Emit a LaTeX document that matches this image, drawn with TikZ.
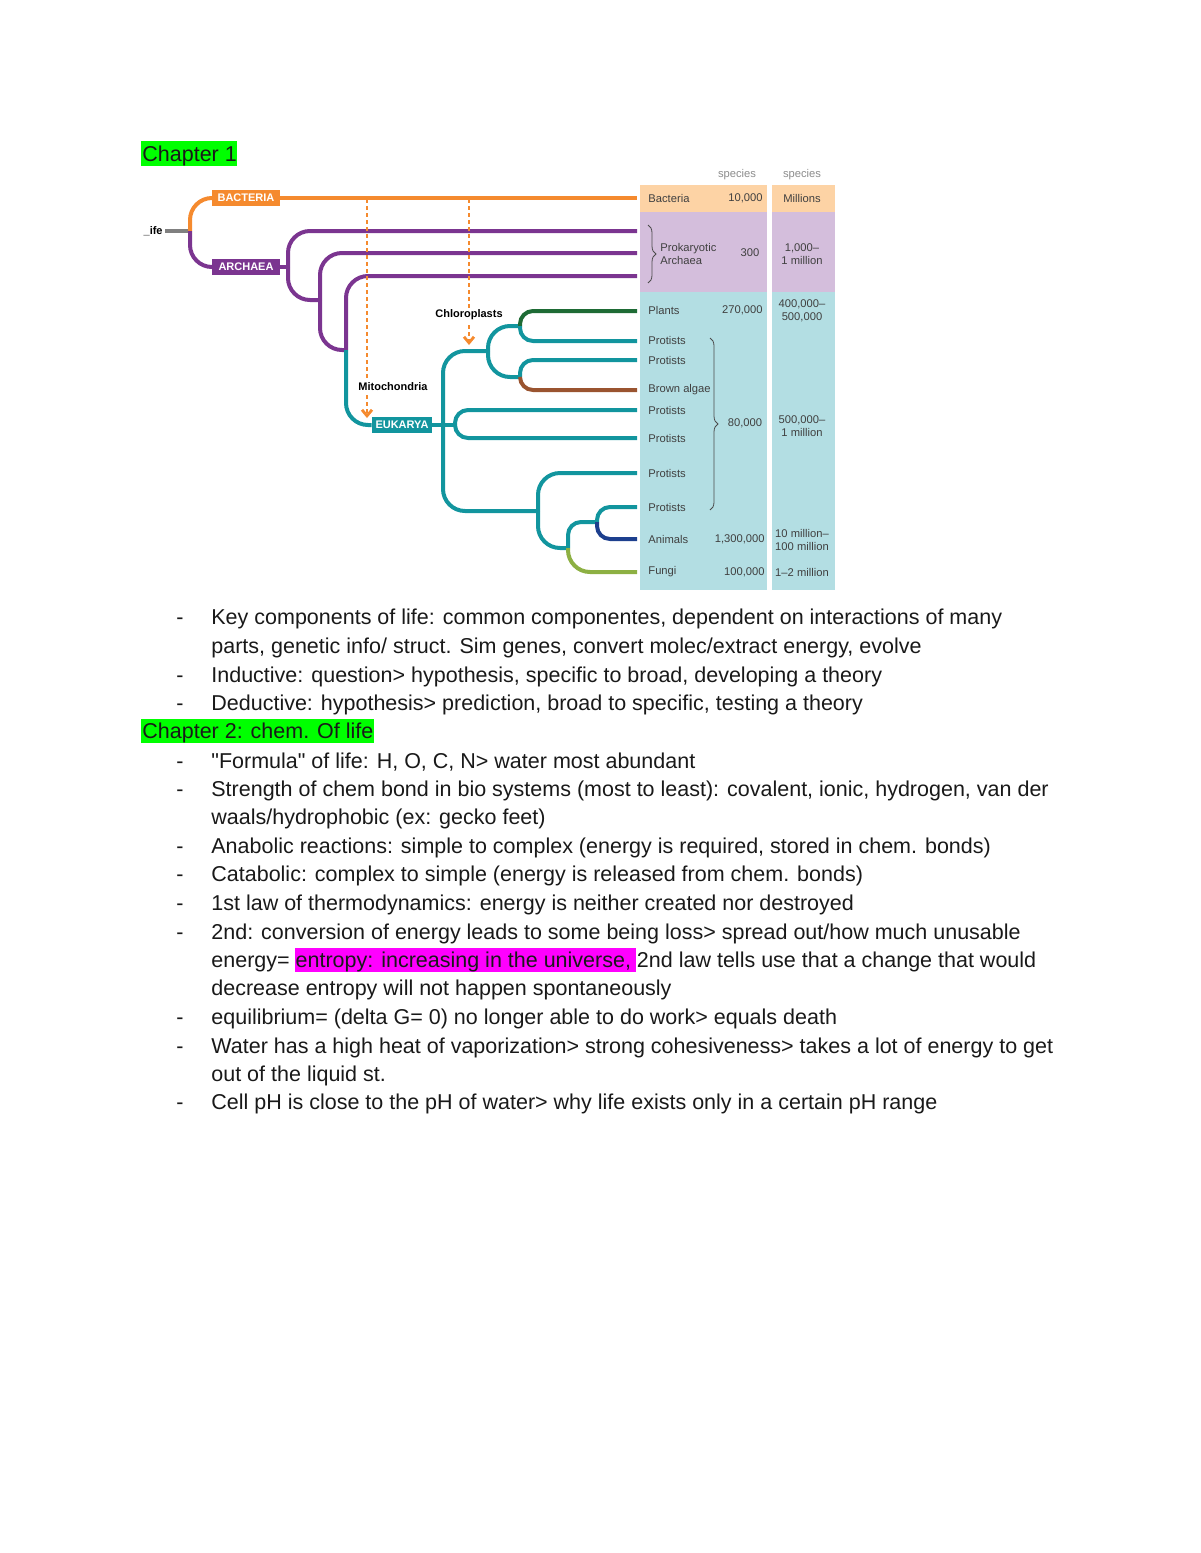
\documentclass[tikz,border=0pt]{standalone}
\usepackage{fontspec}
\setmainfont{Liberation Sans}
\usetikzlibrary{arrows.meta,decorations.pathreplacing}
\definecolor{orng}{HTML}{F58A2E}
\definecolor{purp}{HTML}{7B3590}
\definecolor{teal2}{HTML}{12959E}
\definecolor{dgreen}{HTML}{1E6B35}
\definecolor{brwn}{HTML}{9A5430}
\definecolor{navy2}{HTML}{1D3F8E}
\definecolor{lgreen}{HTML}{8DB043}
\definecolor{corng}{HTML}{FDD3A5}
\definecolor{cpurp}{HTML}{D4BEDC}
\definecolor{cteal}{HTML}{B3DEE3}
\definecolor{hlgreen}{HTML}{00FF00}
\definecolor{hlmag}{HTML}{FF00FF}
\begin{document}
\begin{tikzpicture}[x=0.5pt,y=-0.5pt,
  br/.style={line width=2pt,rounded corners=11pt},
  brs/.style={line width=2pt,rounded corners=6.5pt},
  dom/.style={fill=#1,text=white,font=\fontsize{5.5}{6}\selectfont\bfseries,inner sep=0pt,minimum height=8pt},
  tl/.style={font=\fontsize{5.5}{6}\selectfont\bfseries,inner sep=0pt},
  tb/.style={font=\fontsize{5.6}{6.5}\selectfont,text=black!75,inner sep=0pt,align=center},
  body/.style={font=\fontsize{10.75}{12}\selectfont,anchor=base west,inner sep=0pt,text=black!90},
  dsh/.style={orng,line width=1.4pt,dash pattern=on 2pt off 1.5pt,-{Straight Barb[length=3pt,width=5pt]}}]
\useasboundingbox (0,0) rectangle (1200,1553);
% headings
\fill[hlgreen] (141,141) rectangle (237,166);
\node[body] (h1) at (142,161) {Chapter 1};
% table
\fill[corng] (640,185) rectangle (767,212);
\fill[corng] (772,185) rectangle (835,212);
\fill[cpurp] (640,212) rectangle (767,292);
\fill[cpurp] (772,212) rectangle (835,292);
\fill[cteal] (640,292) rectangle (767,590);
\fill[cteal] (772,292) rectangle (835,590);
\node[tb,text=black!45] (s1) at (737,175) {species};
\node[tb,text=black!45] (s2) at (802,175) {species};
\node[tb,anchor=west] (t1) at (648,198) {Bacteria};
\node[tb,anchor=east] (t2) at (763,198) {10,000};
\node[tb] (t3) at (802,198) {Millions};
\node[tb,anchor=west,align=left] (t4) at (660,254) {Prokaryotic\\Archaea};
\node[tb] (t5) at (750,253) {300};
\node[tb] (t6) at (802,254) {1,000–\\1 million};
\draw[black!70,line width=0.4pt,decorate,decoration={brace,amplitude=4pt}] (648,225) -- (648,283);
\node[tb,anchor=west] (p1) at (648,310) {Plants};
\node[tb,anchor=east] (p2) at (763,310) {270,000};
\node[tb] (p3) at (802,311) {400,000–\\500,000};
\foreach \y/\t in {340/Protists,360/Protists,390/Brown algae,410/Protists,438/Protists,473/Protists,507/Protists,539/Animals,572/Fungi}
  \node[tb,anchor=west] at (648,\y) {\t};
\draw[black!70,line width=0.4pt,decorate,decoration={brace,amplitude=4pt}] (710,338) -- (710,510);
\node[tb] (e1) at (745,423) {80,000};
\node[tb] (e2) at (802,426) {500,000–\\1 million};
\node[tb,anchor=east] (a1) at (765,539) {1,300,000};
\node[tb] (a2) at (802,540) {10 million–\\100 million};
\node[tb,anchor=east] (f1) at (765,572) {100,000};
\node[tb] (f2) at (802,572) {1–2 million};
% tree
\node[tl,anchor=east] (life) at (163,231) {\_ife};
\draw[gray,line width=2pt] (life.east) ++(2,0) -- (190,231);
\node[dom=orng,minimum width=34pt] (bac) at (246,198) {BACTERIA};
\node[dom=purp,minimum width=34pt] (arc) at (246,267) {ARCHAEA};
\node[dom=teal2,minimum width=30pt] (euk) at (402,425) {EUKARYA};
\draw[br,orng] (190,231) |- (bac.west);
\draw[br,orng] (bac.east) -- (637,198);
\draw[br,purp] (190,231) |- (arc.west);
\draw[br,purp] (arc.east) -- (288,267);
\draw[br,purp] (288,267) |- (637,231);
\draw[br,purp] (288,267) |- (320,300);
\draw[br,purp] (320,300) |- (637,253);
\draw[br,purp] (320,300) |- (346,350);
\draw[br,purp] (346,350) |- (637,276);
\draw[br,teal2] (346,350) |- (euk.west);
\draw[br,teal2] (euk.east) -- (455,425);
\draw[brs,teal2] (455,425) |- (637,410);
\draw[brs,teal2] (455,425) |- (637,438);
\draw[br,teal2] (443,425) |- (488,351);
\draw[br,teal2] (488,351) |- (520,326);
\draw[brs,dgreen] (520,326) |- (637,311);
\draw[brs,teal2] (520,326) |- (637,341);
\draw[br,teal2] (488,351) |- (520,377);
\draw[brs,teal2] (520,377) |- (637,360);
\draw[brs,brwn] (520,377) |- (637,390);
\draw[br,teal2] (443,425) |- (538,511);
\draw[br,teal2] (538,511) |- (637,473);
\draw[br,teal2] (538,511) |- (568,548);
\draw[brs,teal2] (568,548) |- (597,522);
\draw[brs,teal2] (597,522) |- (637,507);
\draw[brs,navy2] (597,522) |- (637,539);
\draw[br,lgreen] (568,548) |- (637,572);
\coordinate (m0) at (367,199);
\coordinate (m1) at (367,418);
\coordinate (c0) at (469,199);
\coordinate (c1) at (469,345);
\draw[dsh] (m0) -- (m1);
\draw[dsh] (c0) -- (c1);
\node[tl,fill=white,inner sep=1pt] (chl) at (469,315) {Chloroplasts};
\node[tl,fill=white,inner sep=1pt] (mit) at (393,387) {Mitochondria};
% body text
\foreach \y in {617,675,703,761,789,846,874,903,932,1017,1046,1102}
  \node[body] at (176,\y+7) {-};
\node[body] at (211,624) {Key components of life: common componentes, dependent on interactions of many};
\node[body] at (211,653) {parts, genetic info/ struct. Sim genes, convert molec/extract energy, evolve};
\node[body] at (211,682) {Inductive: question> hypothesis, specific to broad, developing a theory};
\node[body] at (211,710) {Deductive: hypothesis> prediction, broad to specific, testing a theory};
\fill[hlgreen] (141,719) rectangle (374,743);
\node[body] (h2) at (142,738) {Chapter 2: chem. Of life};
\node[body] at (211,768) {\textquotedbl Formula\textquotedbl\ of life: H, O, C, N> water most abundant};
\node[body] at (211,796) {Strength of chem bond in bio systems (most to least): covalent, ionic, hydrogen, van der};
\node[body] at (211,824) {waals/hydrophobic (ex: gecko feet)};
\node[body] at (211,853) {Anabolic reactions: simple to complex (energy is required, stored in chem. bonds)};
\node[body] at (211,881) {Catabolic: complex to simple (energy is released from chem. bonds)};
\node[body] at (211,910) {1st law of thermodynamics: energy is neither created nor destroyed};
\node[body] at (211,939) {2nd: conversion of energy leads to some being loss> spread out/how much unusable};
\fill[hlmag] (295,948) rectangle (636,972);
\node[body] at (211,967) {energy= entropy: increasing in the universe, 2nd law tells use that a change that would};
\node[body] at (211,995) {decrease entropy will not happen spontaneously};
\node[body] at (211,1024) {equilibrium= (delta G= 0) no longer able to do work> equals death};
\node[body] at (211,1053) {Water has a high heat of vaporization> strong cohesiveness> takes a lot of energy to get};
\node[body] at (211,1081) {out of the liquid st.};
\node[body] at (211,1109) {Cell pH is close to the pH of water> why life exists only in a certain pH range};
\end{tikzpicture}
\end{document}
